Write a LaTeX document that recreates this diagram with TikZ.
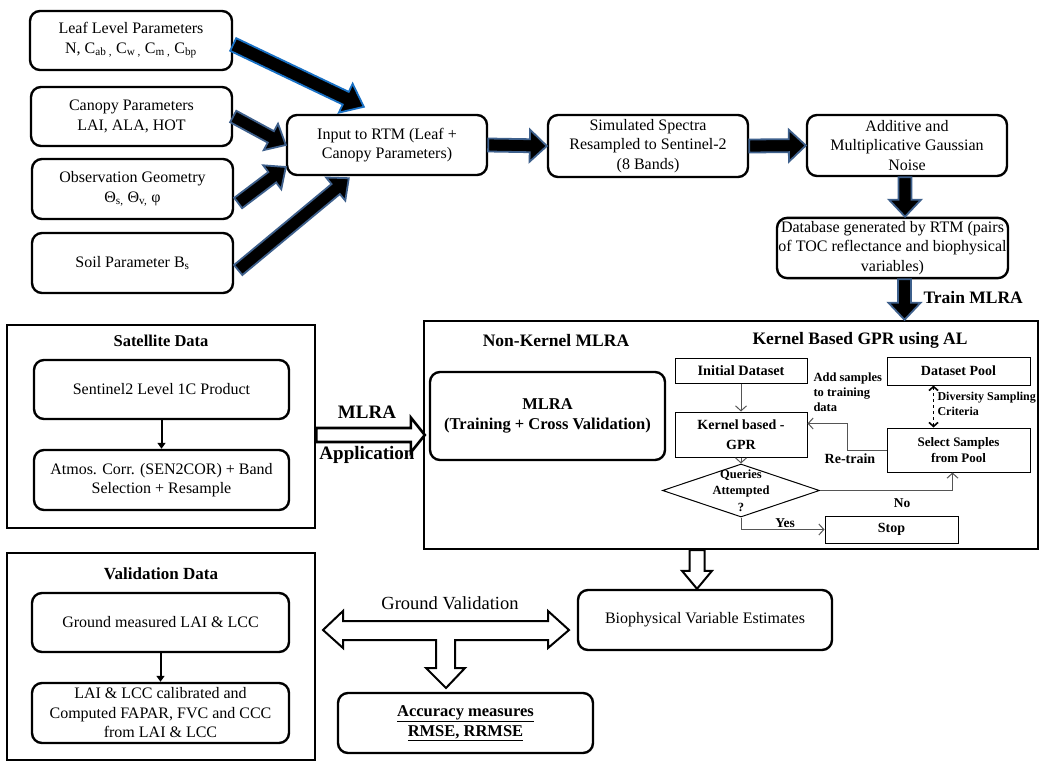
\documentclass[tikz,border=0pt]{standalone}
\usepackage{fontspec}
\setmainfont{Liberation Serif}
\usetikzlibrary{calc,shapes.geometric,arrows.meta}
\definecolor{arrline}{RGB}{62,96,140}
\definecolor{leafline}{RGB}{24,112,196}
\definecolor{thinline}{RGB}{85,85,85}
\tikzset{
  box/.style={draw,line width=2.4pt,rounded corners=10pt,align=center,font=\fontsize{16}{19.5}\selectfont},
  frame/.style={draw,line width=2.4pt},
  kbox/.style={draw,line width=1pt,align=center,font=\bfseries\fontsize{14}{16}\selectfont},
  ktext/.style={align=left,font=\bfseries\fontsize{12.5}{15}\selectfont},
  title/.style={font=\bfseries\fontsize{17.5}{19}\selectfont},
  thinarrow/.style={draw=thinline,line width=1pt,-{Straight Barb[length=5pt,width=11pt]}},
  fat/.style={fill=black,draw=arrline,line width=1.8pt,line join=miter},
  hollow/.style={fill=white,draw=black,line width=2pt,line join=miter},
}
% fat arrow: style, half shaft, half head, head length, from, to
\newcommand{\fatarrow}[6]{%
  \path (#5) coordinate (fas) (#6) coordinate (fae);
  \path ($(fae)!#4!(fas)$) coordinate (fab);
  \filldraw[#1] ($(fas)!#2!90:(fae)$) -- ($(fab)!#2!-90:(fas)$) -- ($(fab)!#3!-90:(fas)$) -- (fae)
    -- ($(fab)!#3!90:(fas)$) -- ($(fab)!#2!90:(fas)$) -- ($(fas)!#2!-90:(fae)$) -- cycle;
}
\begin{document}
\begin{tikzpicture}[x=1pt,y=-1pt]
\useasboundingbox[fill=white] (0,0) rectangle (1041,765);
% simulation chain
\node[box,minimum width=202,minimum height=59] (leaf) at (131,40.5) {Leaf Level Parameters\\N, C\textsubscript{ab ,} C\textsubscript{w ,} C\textsubscript{m ,} C\textsubscript{bp}};
\node[box,minimum width=201,minimum height=59] (canopy) at (131.5,116.5) {Canopy Parameters\\LAI, ALA, HOT};
\node[box,minimum width=201,minimum height=60] (obs) at (132.5,189) {Observation Geometry\\Θ\textsubscript{s,} Θ\textsubscript{v,} φ};
\node[box,minimum width=201,minimum height=60] (soil) at (132.5,263) {Soil Parameter B\textsubscript{s}};
\node[box,minimum width=200,minimum height=60] (rtm) at (387,145) {Input to RTM (Leaf +\\Canopy Parameters)};
\node[box,minimum width=200,minimum height=62] (sim) at (648,146) {Simulated Spectra\\Resampled to Sentinel-2\\(8 Bands)};
\node[box,minimum width=200,minimum height=61] (noise) at (907,145.5) {Additive and\\Multiplicative Gaussian\\Noise};
\node[box,minimum width=231,minimum height=60,inner xsep=1pt] (db) at (892.5,248) {Database generated by RTM (pairs\\of TOC reflectance and biophysical\\variables)};

\fatarrow{fat,draw=leafline}{7pt}{16pt}{20pt}{[yshift=-4pt]leaf.east}{[xshift=78pt,yshift=7pt]rtm.north west}
\fatarrow{fat}{6.5pt}{15pt}{17pt}{canopy.east}{rtm.west}
\fatarrow{fat}{6.5pt}{15pt}{17pt}{[xshift=4pt,yshift=-14pt]obs.east}{[yshift=-22pt]rtm.west}
\fatarrow{fat}{6.5pt}{15pt}{17pt}{[xshift=4pt,yshift=-7pt]soil.east}{[xshift=63pt,yshift=-2pt]rtm.south west}
\fatarrow{fat}{6.5pt}{16pt}{17pt}{rtm.east}{sim.west}
\fatarrow{fat}{6.5pt}{16pt}{17pt}{sim.east}{noise.west}
\coordinate (dbin) at ([xshift=-2pt]noise.south);
\fatarrow{fat}{6.5pt}{16pt}{17pt}{dbin}{dbin |- db.north}

% kernel / non-kernel MLRA
\node[frame,minimum width=614,minimum height=228] (kbig) at (731,435) {};
\coordinate (dbout) at ([xshift=12pt]db.south);
\fatarrow{fat}{6.5pt}{16pt}{17pt}{dbout}{dbout |- kbig.north}
\node[title,anchor=west] (train) at (920,298) {Train MLRA};
\node[title] (nkt) at (556,341) {Non-Kernel MLRA};
\node[title] (kt) at (860,340) {Kernel Based GPR using AL};
\node[box,font=\bfseries\fontsize{16.5}{20}\selectfont,minimum width=235,minimum height=88] (mlra) at (547.5,416) {MLRA\\(Training + Cross Validation)};

\node[kbox,font=\bfseries\fontsize{14.3}{16}\selectfont,minimum width=132,minimum height=25] (init) at (741,370.5) {Initial Dataset};
\node[kbox,minimum width=132,minimum height=45,font=\bfseries\fontsize{14}{20}\selectfont] (kgpr) at (741,434.5) {Kernel based -\\GPR};
\node[draw,line width=1pt,diamond,minimum width=157,minimum height=53,inner sep=0pt,
  label={[ktext,align=center,font=\bfseries\fontsize{12.5}{16.5}\selectfont]center:Queries\\Attempted\\?}] (qa) at (741,490.5) {};
\node[kbox,minimum width=133,minimum height=27] (stop) at (891.5,529.5) {Stop};
\node[kbox,minimum width=143,minimum height=28] (pool) at (958.5,371) {Dataset Pool};
\node[kbox,font=\bfseries\fontsize{13}{16}\selectfont,minimum width=143,minimum height=44] (select) at (958.5,450) {Select Samples\\from Pool};

\draw[thinarrow] (init) -- (kgpr);
\draw[thinarrow] (kgpr) -- (qa);
\draw[thinarrow] (qa.south) |- (stop.west);
\draw[thinarrow] (qa.east) -| ([xshift=-6pt]select.south);
\draw[thinarrow] (select.west) -- ++(-39,0) |- ([yshift=11pt]kgpr.east);
\draw[dashed,line width=1.6pt,{Straight Barb[length=4pt,width=9pt]}-{Straight Barb[length=4pt,width=9pt]}]
  ([xshift=-25pt]pool.south) -- ([xshift=-25pt]select.north);
\node[ktext,font=\bfseries\fontsize{13.5}{15}\selectfont] (yes) at (785,523) {Yes};
\node[ktext,font=\bfseries\fontsize{13.5}{15}\selectfont] (no) at (902,503) {No};
\node[ktext,font=\bfseries\fontsize{14}{15}\selectfont] (retrain) at (850,459) {Re-train};
\node[ktext,anchor=west] (add) at (810,392) {Add samples\\to training\\data};
\node[ktext,anchor=west,font=\bfseries\fontsize{12}{14.5}\selectfont] (div) at (934,404) {Diversity Sampling\\Criteria};

% satellite data
\node[frame,minimum width=308,minimum height=203] (sat) at (161,426.5) {};
\node[title,font=\bfseries\fontsize{16.5}{19}\selectfont] (satt) at (161,341) {Satellite Data};
\node[box,minimum width=255,minimum height=59] (s2) at (161.5,389.5) {Sentinel2 Level 1C Product};
\node[box,minimum width=255,minimum height=60] (atm) at (161.5,480) {Atmos. Corr. (SEN2COR) + Band\\Selection + Resample};
\draw[line width=2pt,-{Triangle[length=6pt,width=8pt]}] (s2) -- (atm);
\fatarrow{hollow,line width=2.6pt}{7pt}{17.5pt}{14pt}{[yshift=-8.5pt]sat.east}{[xshift=-4pt,yshift=-19pt]mlra.west}
\node[title,font=\bfseries\fontsize{19}{20}\selectfont] (mlt) at (367,412) {MLRA};
\node[title,font=\bfseries\fontsize{19}{20}\selectfont] (appl) at (367,455) {Application};

% validation
\node[frame,minimum width=308,minimum height=207] (val) at (161,656.5) {};
\node[title,font=\bfseries\fontsize{17}{19}\selectfont] (valt) at (161,574) {Validation Data};
\node[box,minimum width=257,minimum height=59] (ground) at (160.5,622.5) {Ground measured LAI \& LCC};
\node[box,minimum width=257,minimum height=60,inner ysep=1pt] (lai) at (160.5,713) {LAI \& LCC calibrated and\\Computed FAPAR, FVC and CCC\\from LAI \& LCC};
\draw[line width=2pt,-{Triangle[length=6pt,width=8pt]}] (ground) -- (lai);
\node[box,minimum width=254,minimum height=60] (bio) at (705,620) {Biophysical Variable Estimates};
\node[box,font=\bfseries\fontsize{16.5}{20}\selectfont,minimum width=255,minimum height=60] (acc) at (465.5,723) {\underline{Accuracy measures}\\\underline{RMSE, RRMSE}};
\coordinate (bioin) at ([xshift=-8pt]bio.north);
\fatarrow{hollow}{7.5pt}{15pt}{18pt}{bioin |- kbig.south}{bioin}
\filldraw[hollow] (323,630) -- (343,611) -- (343,621) -- (548,621) -- (548,611) -- (569,630) -- (548,648)
  -- (548,640) -- (455,640) -- (455,668) -- (465,668) -- (446,688) -- (426,668) -- (436,668) -- (436,640)
  -- (343,640) -- (343,648) -- cycle;
\node[font=\fontsize{18.5}{20}\selectfont] (gv) at (450,603) {Ground Validation};
\end{tikzpicture}
\end{document}
